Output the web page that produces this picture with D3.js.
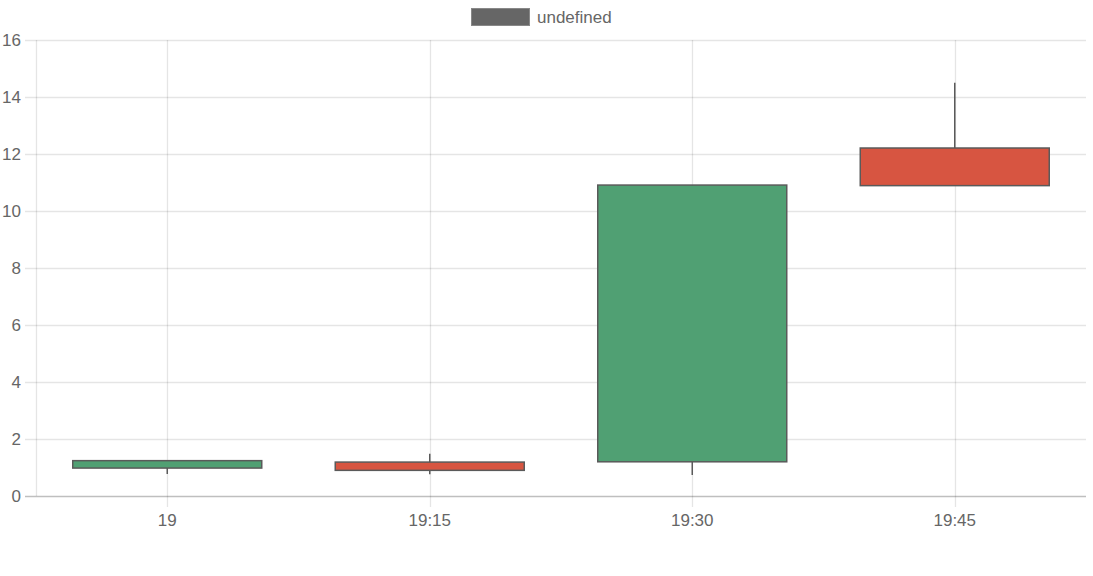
<!DOCTYPE html>
<html>
<head>
<meta charset="utf-8">
<script src="https://cdn.jsdelivr.net/npm/d3@7"></script>
<style>
  html, body { margin: 0; padding: 0; background: #fff; }
  text { font-family: "Liberation Sans", Arial, sans-serif; fill: #666; }
</style>
</head>
<body>
<svg id="chart" width="1093" height="576"></svg>
<script>
// candle data
const categories = ['19', '19:15', '19:30', '19:45'];
const opens  = [0.98, 1.19, 1.20, 12.21];
const highs  = [1.24, 1.48, 10.91, 14.5];
const lows   = [0.77, 0.76, 0.74, 10.89];
const closes = [1.24, 0.90, 10.91, 10.89];
const yTicks = [0, 2, 4, 6, 8, 10, 12, 14, 16];
const legendLabel = 'undefined';

const colors = {
  up: 'rgb(80, 160, 115)',
  down: 'rgb(215, 85, 65)',
  border: 'rgb(90, 90, 90)',
  grid: 'rgba(0, 0, 0, 0.1)',
  axis: 'rgba(0, 0, 0, 0.25)'
};
const fontSize = 17;

const svg = d3.select('#chart');
const margin = { top: 40, right: 7, bottom: 80, left: 36 };
const width = 1093 - margin.left - margin.right;
const height = 576 - margin.top - margin.bottom;

const x = d3.scaleBand().domain(categories).range([0, width]);
const y = d3.scaleLinear().domain([0, 16]).range([height, 0]);

const g = svg.append('g').attr('transform', `translate(${margin.left},${margin.top})`);

// horizontal grid + left ticks
g.append('g')
  .selectAll('line')
  .data(yTicks)
  .enter()
  .append('line')
  .attr('x1', -11)
  .attr('x2', width)
  .attr('y1', d => Math.round(y(d)) + 0.5)
  .attr('y2', d => Math.round(y(d)) + 0.5)
  .style('stroke', d => d === 0 ? colors.axis : colors.grid)
  .style('stroke-width', 1.3);

// vertical grid at category centers
g.append('g')
  .selectAll('line')
  .data(categories)
  .enter()
  .append('line')
  .attr('x1', d => Math.round(x(d) + x.bandwidth() / 2) + 0.5)
  .attr('x2', d => Math.round(x(d) + x.bandwidth() / 2) + 0.5)
  .attr('y1', 0)
  .attr('y2', height + 11)
  .style('stroke', colors.grid)
  .style('stroke-width', 1.3);

// left border
g.append('line')
  .attr('x1', 0.5).attr('x2', 0.5)
  .attr('y1', 0).attr('y2', height)
  .style('stroke', colors.grid)
  .style('stroke-width', 1.3);

// tick labels
g.append('g')
  .selectAll('text')
  .data(yTicks)
  .enter()
  .append('text')
  .attr('x', -15)
  .attr('y', d => y(d))
  .attr('dy', '0.35em')
  .style('text-anchor', 'end')
  .style('font-size', fontSize + 'px')
  .text(d => d);

g.append('g')
  .selectAll('text')
  .data(categories)
  .enter()
  .append('text')
  .attr('x', d => x(d) + x.bandwidth() / 2)
  .attr('y', height + 24)
  .attr('dy', '0.35em')
  .style('text-anchor', 'middle')
  .style('font-size', fontSize + 'px')
  .text(d => d);

// candles
const candleWidth = x.bandwidth() * 0.72;
const candles = g.append('g')
  .selectAll('g')
  .data(categories.map((c, i) => ({ c, o: opens[i], h: highs[i], l: lows[i], cl: closes[i] })))
  .enter()
  .append('g');

candles.append('line')
  .attr('x1', d => x(d.c) + x.bandwidth() / 2)
  .attr('x2', d => x(d.c) + x.bandwidth() / 2)
  .attr('y1', d => y(d.h))
  .attr('y2', d => y(d.l))
  .style('stroke', colors.border)
  .style('stroke-width', 1.5);

candles.append('rect')
  .attr('x', d => x(d.c) + (x.bandwidth() - candleWidth) / 2)
  .attr('width', candleWidth)
  .attr('y', d => y(Math.max(d.o, d.cl)))
  .attr('height', d => Math.abs(y(d.o) - y(d.cl)))
  .style('fill', d => d.cl >= d.o ? colors.up : colors.down)
  .style('stroke', colors.border)
  .style('stroke-width', 1.5);

// legend
const legend = svg.append('g');
legend.append('rect')
  .attr('x', 471.5).attr('y', 8.5)
  .attr('width', 58).attr('height', 17)
  .style('fill', '#666')
  .style('stroke', '#888')
  .style('stroke-width', 1);
legend.append('text')
  .attr('x', 537)
  .attr('y', 17)
  .attr('dy', '0.35em')
  .style('font-size', fontSize + 'px')
  .text(legendLabel);
</script>
</body>
</html>
